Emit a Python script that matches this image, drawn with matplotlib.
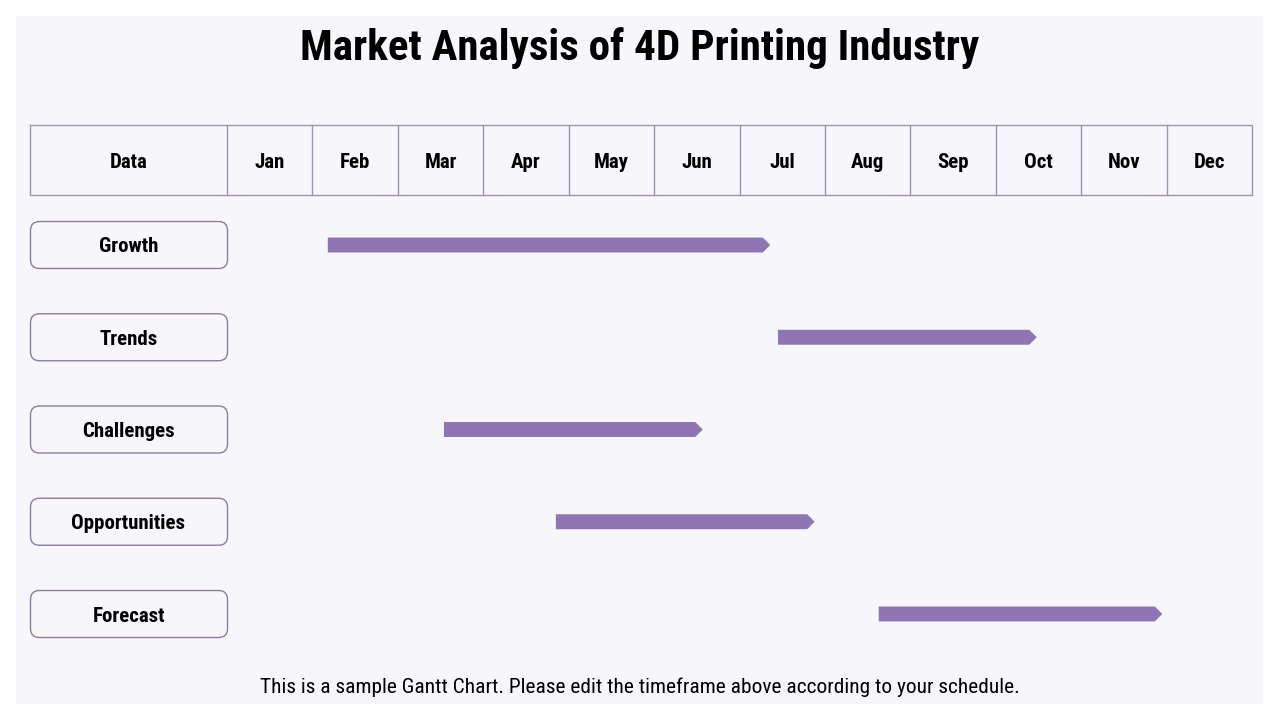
import matplotlib.pyplot as plt
from matplotlib import transforms
from matplotlib.patches import Rectangle, FancyBboxPatch

plt.rcParams['font.family'] = ['Roboto Condensed', 'PT Sans Narrow', 'DejaVu Sans']

title = "Market Analysis of 4D Printing Industry"
footer = "This is a sample Gantt Chart. Please edit the timeframe above according to your schedule."
months = ["Jan", "Feb", "Mar", "Apr", "May", "Jun", "Jul", "Aug", "Sep", "Oct", "Nov", "Dec"]
tasks = ["Growth", "Trends", "Challenges", "Opportunities", "Forecast"]
# start / end in month units (0 = start of Jan)
starts = [1.18, 6.45, 2.54, 3.85, 7.63]
ends = [6.36, 9.48, 5.57, 6.88, 10.95]

bg = "#f7f6fb"
bar_col = "#8f75b3"
line_col = "#9f92b3"
box_col = "#8c7c9f"

fig = plt.figure(figsize=(12.8, 7.2), dpi=100)
fig.patch.set_facecolor("white")

# full-figure pixel axes for the decorations
ax0 = fig.add_axes([0, 0, 1, 1])
ax0.set_xlim(0, 1280)
ax0.set_ylim(720, 0)
ax0.axis("off")
ax0.add_patch(Rectangle((16, 16), 1247, 688, facecolor=bg, edgecolor="none"))

ax0.text(640, 48, title, ha="center", va="center", fontsize=31, fontweight="bold")
ax0.text(640, 687, footer, ha="center", va="center", fontsize=15.4)

# data axes: x in months, y in rows
ax = fig.add_axes([227 / 1280, 1 - 660.1 / 720, (1252 - 227) / 1280, (660.1 - 198.9) / 720])
ax.set_xlim(0, 12)
ax.set_ylim(len(tasks) - 0.5, -0.5)
ax.axis("off")
ax.patch.set_alpha(0)

# header table: x in months, y in pixels
tr = transforms.blended_transform_factory(ax.transData, ax0.transData)
x_data = -197 / (1025 / 12)
top, bot = 124.5, 195
ax.plot([x_data, 12, 12, x_data, x_data], [top, top, bot, bot, top], color=line_col, lw=1,
        transform=tr, clip_on=False)
for m in range(12):
    ax.plot([m, m], [top, bot], color=line_col, lw=1, transform=tr, clip_on=False)
    ax.text(m + 0.5, (top + bot) / 2 + 3, months[m], ha="center", va="center", fontsize=15,
            fontweight="bold", transform=tr)
ax.text(x_data / 2, (top + bot) / 2 + 3, "Data", ha="center", va="center", fontsize=15,
        fontweight="bold", transform=tr)

# row labels in rounded boxes
for i, name in enumerate(tasks):
    cy = 245 + 92.25 * i
    ax0.add_patch(FancyBboxPatch((30.5 + 9, cy - 23.5 + 9), 197 - 18, 47 - 18,
                                 boxstyle="round,pad=9", facecolor=bg, edgecolor=box_col, lw=1))
    ax0.text(128.5, cy + 2, name, ha="center", va="center", fontsize=15, fontweight="bold")

# bars with pointed tips
h = 0.081
tip = 7.5 / (1025 / 12)
for i in range(len(tasks)):
    s, e = starts[i], ends[i]
    ax.fill([s, e - tip, e, e - tip, s], [i - h, i - h, i, i + h, i + h], color=bar_col, lw=0)

fig.savefig("out.png", dpi=100, facecolor=fig.get_facecolor())
